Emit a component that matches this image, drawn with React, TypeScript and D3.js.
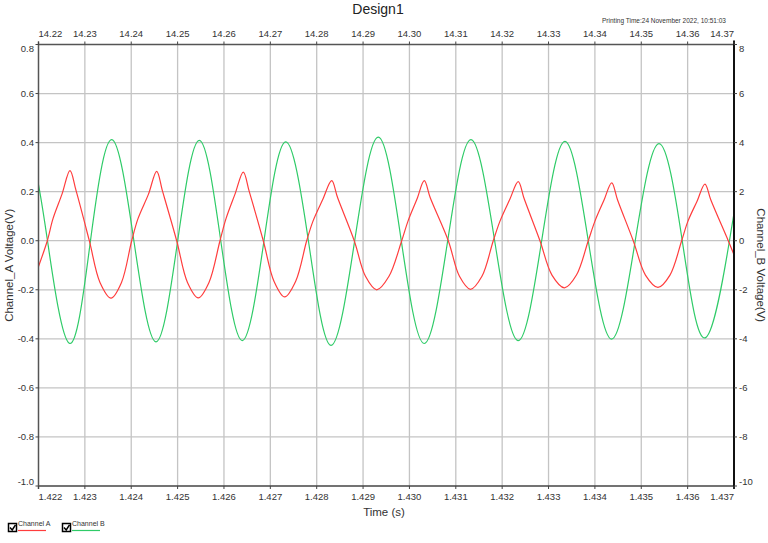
import React from "react";
import * as d3 from "d3";

// ---------- data ----------
const bottomTicks = [1.422, 1.423, 1.424, 1.425, 1.426, 1.427, 1.428, 1.429, 1.43, 1.431, 1.432, 1.433, 1.434, 1.435, 1.436, 1.437];
const bottomTickLabels = ["1.422", "1.423", "1.424", "1.425", "1.426", "1.427", "1.428", "1.429", "1.430", "1.431", "1.432", "1.433", "1.434", "1.435", "1.436", "1.437"];
const topTickLabels = ["14.22", "14.23", "14.24", "14.25", "14.26", "14.27", "14.28", "14.29", "14.30", "14.31", "14.32", "14.33", "14.34", "14.35", "14.36", "14.37"];
const leftTicks = [0.8, 0.6, 0.4, 0.2, 0.0, -0.2, -0.4, -0.6, -0.8, -1.0];
const leftTickLabels = ["0.8", "0.6", "0.4", "0.2", "0.0", "-0.2", "-0.4", "-0.6", "-0.8", "-1.0"];
const rightTicks = [8, 6, 4, 2, 0, -2, -4, -6, -8, -10];
const rightTickLabels = ["8", "6", "4", "2", "0", "-2", "-4", "-6", "-8", "-10"];

// Channel A (left axis, V)
const chATime = [
  1.422000, 1.422190, 1.422313, 1.422507, 1.422679, 1.422809, 1.423096, 1.423326, 1.423564, 1.423790,
  1.424010, 1.424146, 1.424372, 1.424549, 1.424678, 1.424980, 1.425213, 1.425446, 1.425677,
  1.425914, 1.426044, 1.426238, 1.426417, 1.426546, 1.426848, 1.427079, 1.427309, 1.427547,
  1.427784, 1.427920, 1.428135, 1.428323, 1.428452, 1.428810, 1.429052, 1.429294, 1.429559,
  1.429833, 1.429969, 1.430163, 1.430320, 1.430449, 1.430838, 1.431079, 1.431316, 1.431564,
  1.431808, 1.431953, 1.432168, 1.432347, 1.432477, 1.432815, 1.433074, 1.433344, 1.433602,
  1.433857, 1.434001, 1.434195, 1.434362, 1.434491, 1.434827, 1.435090, 1.435360, 1.435619,
  1.435871, 1.436007, 1.436201, 1.436373, 1.436503, 1.436876, 1.437000,
];
const chAVolt = [
  -0.105, 0, 0.09, 0.19, 0.286, 0.205, 0, -0.17, -0.234, -0.17,
  0, 0.09, 0.19, 0.283, 0.2, 0, -0.17, -0.233, -0.17,
  0, 0.09, 0.19, 0.28, 0.2, 0, -0.165, -0.229, -0.165,
  0, 0.08, 0.17, 0.245, 0.175, 0, -0.145, -0.2, -0.145,
  0, 0.08, 0.17, 0.245, 0.175, 0, -0.145, -0.198, -0.145,
  0, 0.08, 0.17, 0.241, 0.17, 0, -0.14, -0.192, -0.14,
  0, 0.08, 0.165, 0.236, 0.165, 0, -0.14, -0.19, -0.14,
  0, 0.08, 0.16, 0.231, 0.165, 0, -0.057,
];

// Channel B (right axis, V)
const chBTime = [
  1.422000, 1.422194, 1.422664, 1.423121, 1.423579, 1.424057, 1.424534, 1.425002, 1.425468, 1.425931,
  1.426395, 1.426863, 1.427331, 1.427821, 1.428308, 1.428819, 1.429328, 1.429824, 1.430320, 1.430825,
  1.431327, 1.431838, 1.432347, 1.432852, 1.433354, 1.433857, 1.434362, 1.434870, 1.435382, 1.435884,
  1.436389, 1.436902, 1.437000,
];
const chBVolt = [
  2.29, 0, -4.18, 0, 4.12, 0, -4.12, 0, 4.09, 0,
  -4.07, 0, 4.03, 0, -4.27, 0, 4.22, 0, -4.19, 0,
  4.12, 0, -4.07, 0, 4.05, 0, -4.01, 0, 3.96, 0,
  -3.95, 0, 1.1,
];

// ---------- layout ----------
const W = 768;
const H = 543;
const L = 38.5;
const R = 734;
const T = 44.5;
const B = 486;
const FONT = "'Liberation Sans', Arial, sans-serif";
const RED = "#ff3d3d";
const GREEN = "#2fcb68";

export default function App() {
  const x = d3.scaleLinear().domain([1.422, 1.437]).range([L, R]);
  const yL = d3.scaleLinear().domain([-1.0, 0.8]).range([B, T]);
  const yR = d3.scaleLinear().domain([-10, 8]).range([B, T]);

  const aPts = chATime.slice(0, Math.min(chATime.length, chAVolt.length)).map((t, i) => [t, chAVolt[i]] as [number, number]);
  const bPts = chBTime.slice(0, Math.min(chBTime.length, chBVolt.length)).map((t, i) => [t, chBVolt[i]] as [number, number]);

  const lineA = d3
    .line<[number, number]>()
    .x((d) => x(d[0]))
    .y((d) => yL(d[1]))
    .curve(d3.curveCatmullRom.alpha(0.5));
  const lineB = d3
    .line<[number, number]>()
    .x((d) => x(d[0]))
    .y((d) => yR(d[1]))
    .curve(d3.curveNatural);

  const n = bottomTicks.length;

  return (
    <div style={{ position: "absolute", left: 0, top: 0 }}>
      <svg width={W} height={H} style={{ display: "block", background: "#fff" }} fontFamily={FONT}>
        <defs>
          <clipPath id="plotclip">
            <rect x={L} y={T} width={R - L} height={B - T} />
          </clipPath>
        </defs>
        <rect x={0} y={0} width={W} height={H} fill="#fff" />

        {/* title */}
        <text x={378} y={14} textAnchor="middle" fontSize={14} fill="#222">Design1</text>
        <text x={664} y={23} textAnchor="middle" fontSize={6.5} fill="#333">
          Printing Time:24 November 2022, 10:51:03
        </text>

        {/* grid */}
        {bottomTicks.map((t, i) =>
          i > 0 && i < n - 1 ? (
            <line key={"gx" + i} x1={x(t)} x2={x(t)} y1={T} y2={B} stroke="#c4c4c4" strokeWidth={1.3} />
          ) : null
        )}
        {leftTicks.map((v, i) =>
          i > 0 && i < leftTicks.length - 1 ? (
            <line key={"gy" + i} x1={L} x2={R} y1={yL(v)} y2={yL(v)} stroke="#c4c4c4" strokeWidth={1.3} />
          ) : null
        )}

        {/* series */}
        <g clipPath="url(#plotclip)">
          <path d={lineB(bPts) || ""} fill="none" stroke={GREEN} strokeWidth={1.2} />
          <path d={lineA(aPts) || ""} fill="none" stroke={RED} strokeWidth={1.2} />
        </g>

        {/* axes lines */}
        <line x1={L} x2={R} y1={T} y2={T} stroke="#555" strokeWidth={1.3} />
        <line x1={L} x2={R} y1={B} y2={B} stroke="#444" strokeWidth={1.5} />
        <line x1={L} x2={L} y1={T - 3} y2={B + 3} stroke="#555" strokeWidth={1.5} />
        <line x1={R} x2={R} y1={T - 4} y2={B + 3} stroke="#111" strokeWidth={2} />

        {/* top axis */}
        {bottomTicks.map((t, i) => (
          <g key={"tt" + i}>
            <line x1={x(t)} x2={x(t)} y1={T - 3} y2={T} stroke="#444" strokeWidth={1} />
            <text
              x={x(t)}
              y={37}
              fontSize={9.5}
              fill="#333"
              textAnchor={i === 0 ? "start" : i === n - 1 ? "end" : "middle"}
            >
              {topTickLabels[i]}
            </text>
          </g>
        ))}

        {/* bottom axis */}
        {bottomTicks.map((t, i) => (
          <g key={"bt" + i}>
            <line x1={x(t)} x2={x(t)} y1={B} y2={B + 3} stroke="#444" strokeWidth={1} />
            <text
              x={x(t)}
              y={500}
              fontSize={9.5}
              fill="#333"
              textAnchor={i === 0 ? "start" : i === n - 1 ? "end" : "middle"}
            >
              {bottomTickLabels[i]}
            </text>
          </g>
        ))}

        {/* left axis */}
        {leftTicks.map((v, i) => {
          const dy = i === 0 ? 4 : i === leftTicks.length - 1 ? -4 : 0;
          return (
            <g key={"lt" + i}>
              <line x1={L - 3} x2={L} y1={yL(v)} y2={yL(v)} stroke="#444" strokeWidth={1} />
              <text x={34} y={yL(v) + 3.3 + dy} fontSize={9.5} fill="#333" textAnchor="end">
                {leftTickLabels[i]}
              </text>
            </g>
          );
        })}

        {/* right axis */}
        {rightTicks.map((v, i) => {
          const dy = i === 0 ? 4 : i === rightTicks.length - 1 ? -4 : 0;
          return (
            <g key={"rt" + i}>
              <line x1={R} x2={R + 3} y1={yR(v)} y2={yR(v)} stroke="#444" strokeWidth={1} />
              <text x={739} y={yR(v) + 3.3 + dy} fontSize={9.5} fill="#333" textAnchor="start">
                {rightTickLabels[i]}
              </text>
            </g>
          );
        })}

        {/* axis titles */}
        <text x={384} y={516} textAnchor="middle" fontSize={11.5} fill="#333">Time (s)</text>
        <text
          transform={`translate(13,${(T + B) / 2}) rotate(-90)`}
          textAnchor="middle"
          fontSize={11.5}
          fill="#333"
        >
          Channel_A Voltage(V)
        </text>
        <text
          transform={`translate(757,${(T + B) / 2}) rotate(90)`}
          textAnchor="middle"
          fontSize={11.5}
          fill="#333"
        >
          Channel_B Voltage(V)
        </text>

        {/* legend */}
        <g>
          <rect x={8.5} y={523.5} width={8} height={8} fill="#fff" stroke="#000" strokeWidth={1.5} />
          <path d="M10,527.5 L12.2,530 L15.5,524.8" fill="none" stroke="#000" strokeWidth={1.5} />
          <text x={18} y={525.5} fontSize={7} fill="#333">Channel A</text>
          <line x1={18} x2={46} y1={530.5} y2={530.5} stroke={RED} strokeWidth={1.2} />

          <rect x={62.5} y={523.5} width={8} height={8} fill="#fff" stroke="#000" strokeWidth={1.5} />
          <path d="M64,527.5 L66.2,530 L69.5,524.8" fill="none" stroke="#000" strokeWidth={1.5} />
          <text x={72} y={525.5} fontSize={7} fill="#333">Channel B</text>
          <line x1={72} x2={100} y1={530.5} y2={530.5} stroke={GREEN} strokeWidth={1.2} />
        </g>
      </svg>
    </div>
  );
}
